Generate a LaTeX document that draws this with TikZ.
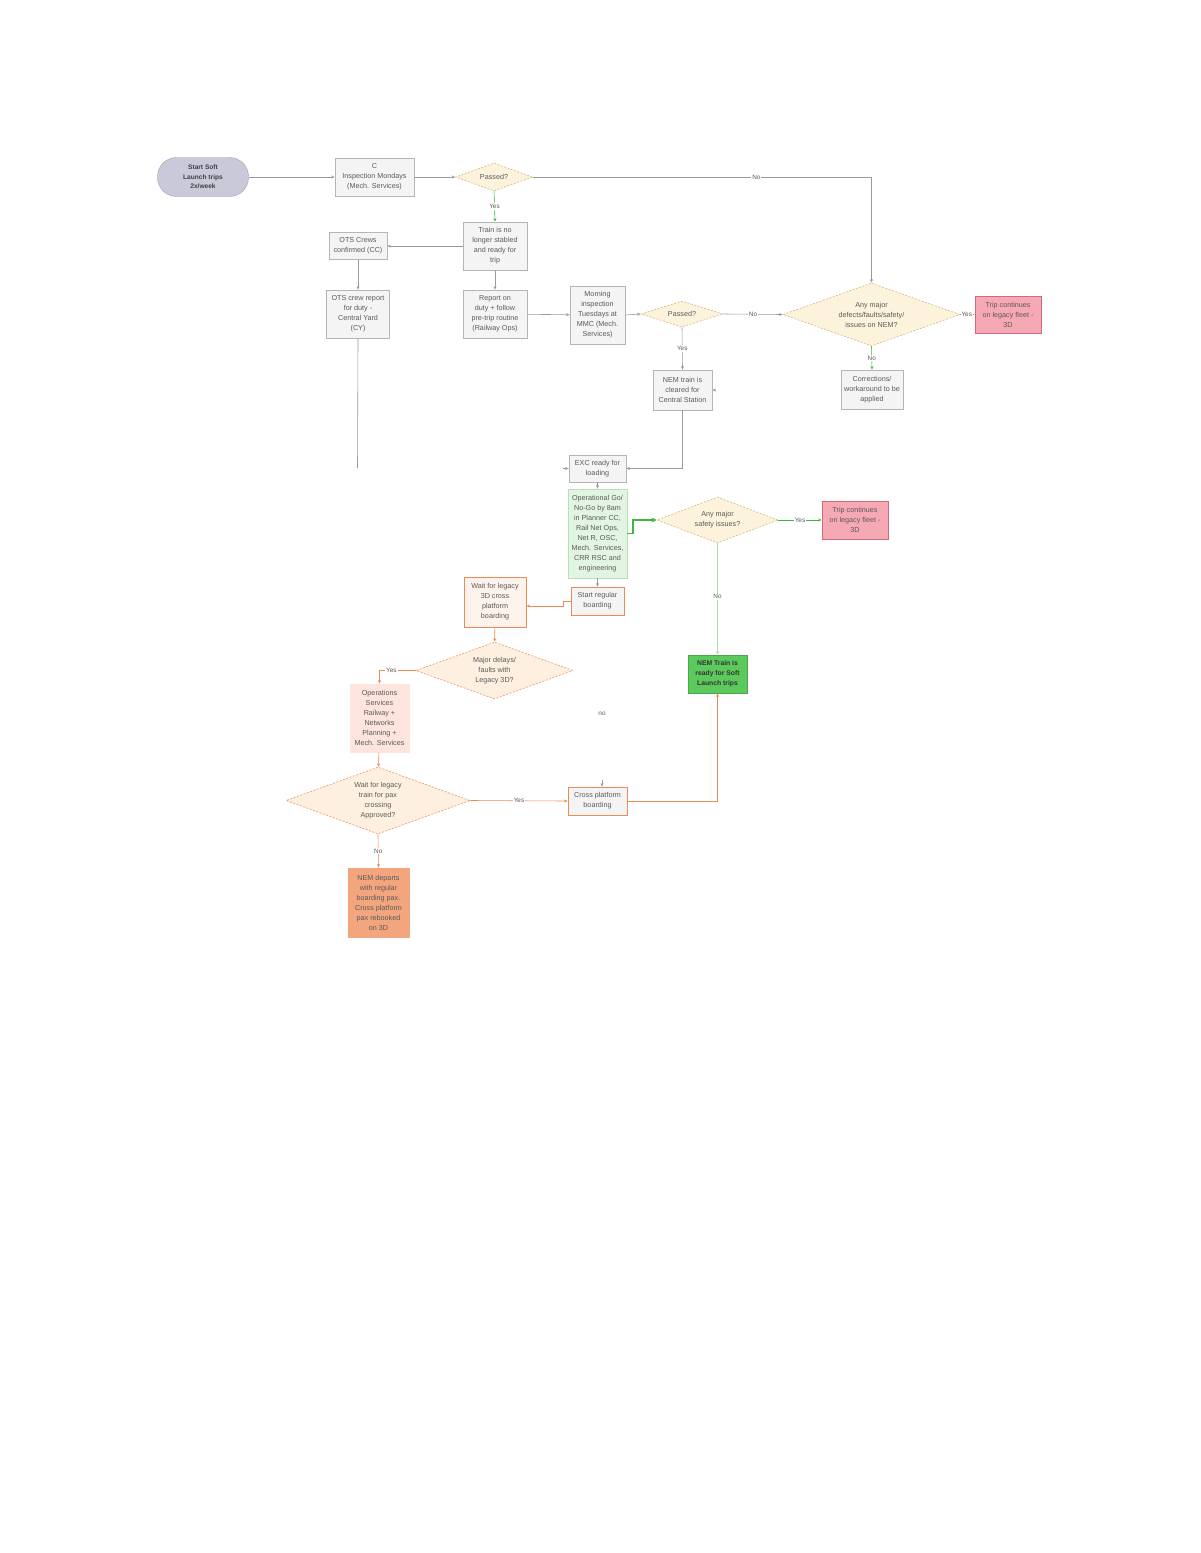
\documentclass[tikz,border=0pt]{standalone}
\usepackage{fontspec}
\setmainfont{Liberation Sans}
\usetikzlibrary{shapes.geometric,arrows.meta}
\definecolor{txt}{HTML}{5A5A5A}
\definecolor{lgray}{HTML}{9A9A9A}
\definecolor{bfill}{HTML}{F4F4F4}
\definecolor{bdraw}{HTML}{B5B5B5}
\definecolor{dfill}{HTML}{FDF3DC}
\definecolor{ddraw}{HTML}{D8BF8A}
\definecolor{rfill}{HTML}{F6A9B5}
\definecolor{rdraw}{HTML}{CF6A78}
\definecolor{glfill}{HTML}{E2F4E2}
\definecolor{gldraw}{HTML}{B7E0B7}
\definecolor{gsfill}{HTML}{5CC95C}
\definecolor{gsdraw}{HTML}{4AA84A}
\definecolor{gline}{HTML}{3CB83C}
\definecolor{glight}{HTML}{A8DDA8}
\definecolor{orng}{HTML}{EE8A55}
\definecolor{ofill}{HTML}{FDF2EC}
\definecolor{odfill}{HTML}{FDF0E0}
\definecolor{odraw}{HTML}{F0A070}
\definecolor{pinkfill}{HTML}{FDE4DC}
\definecolor{salmon}{HTML}{F3A57E}
\definecolor{sfill}{HTML}{C9C9D9}
\definecolor{sdraw}{HTML}{A0A0B0}
\tikzset{
  base/.style={font=\fontsize{7.2}{10}\selectfont, text=txt, align=center, inner sep=0pt},
  box/.style={base, rectangle, draw=bdraw, fill=bfill, line width=0.8pt},
  dia/.style={base, diamond, draw=ddraw, fill=dfill, dash pattern=on 2pt off 1.5pt, line width=0.7pt},
  odia/.style={dia, draw=odraw, fill=odfill},
  obox/.style={box, draw=orng},
  conn/.style={draw=lgray, line width=0.6pt, -{Stealth[length=3.5pt,width=3pt]}},
  gconn/.style={conn, draw=gline},
  lgconn/.style={conn, draw=glight},
  oconn/.style={conn, draw=orng},
  lbl/.style={base, fill=white, inner sep=1pt, font=\fontsize{6.4}{7}\selectfont},
}
\begin{document}
\begin{tikzpicture}[x=1pt,y=-1pt]
\useasboundingbox (0,0) rectangle (1200,1553);
\fill[white] (0,0) rectangle (1200,1553);

% nodes
\node[base, rounded corners=19pt, draw=sdraw, fill=sfill, minimum width=91pt, minimum height=39pt, font=\bfseries\fontsize{6.6}{9.5}\selectfont, text=black!75] (start) at (203,177) {Start Soft\\Launch trips\\2x/week};
\node[box, minimum width=79pt, minimum height=38pt] (insp) at (374.5,177) {C\\Inspection Mondays\\(Mech. Services)};
\node[dia, aspect=2.75, minimum width=77pt, minimum height=28pt] (p1) at (494,177) {Passed?};
\node[box, minimum width=64pt, minimum height=48pt] (train) at (495,246) {Train is no\\longer stabled\\and ready for\\trip};
\node[box, minimum width=58pt, minimum height=27pt] (otsc) at (358,246) {OTS Crews\\confirmed (CC)};
\node[box, minimum width=63pt, minimum height=48pt] (otsr) at (358,314) {OTS crew report\\for duty -\\Central Yard\\(CY)};
\node[box, minimum width=64pt, minimum height=48pt] (report) at (495,314) {Report on\\duty + follow\\pre-trip routine\\(Railway Ops)};
\node[box, minimum width=55pt, minimum height=58pt] (morn) at (597.5,315) {Morning\\inspection\\Tuesdays at\\MMC (Mech.\\Services)};
\node[dia, aspect=3.15, minimum width=82pt, minimum height=26pt] (p2) at (682,314) {Passed?};
\node[dia, aspect=2.8, minimum width=177pt, minimum height=63pt] (big) at (871.5,314.5) {Any major\\defects/faults/safety/\\issues on NEM?};
\node[box, draw=rdraw, fill=rfill, minimum width=66pt, minimum height=37pt] (red1) at (1008,314.5) {Trip continues\\on legacy fleet -\\3D};
\node[box, minimum width=62pt, minimum height=39pt] (corr) at (872,389.5) {Corrections/\\workaround to be\\applied};
\node[box, minimum width=59pt, minimum height=40pt] (clear) at (682.5,390) {NEM train is\\cleared for\\Central Station};
\node[box, minimum width=57pt, minimum height=27pt] (exc) at (597.5,468.5) {EXC ready for\\loading};
\node[box, draw=gldraw, fill=glfill, minimum width=59pt, minimum height=89pt] (ops) at (597.5,533.5) {Operational Go/\\No-Go by 8am\\in Planner CC,\\Rail Net Ops,\\Net R, OSC,\\Mech. Services,\\CRR RSC and\\engineering};
\node[dia, aspect=2.6, minimum width=121pt, minimum height=46pt] (safe) at (717.5,520) {Any major\\safety issues?};
\node[box, draw=rdraw, fill=rfill, minimum width=66pt, minimum height=38pt] (red2) at (855,520) {Trip continues\\on legacy fleet -\\3D};
\node[box, draw=gsdraw, fill=gsfill, minimum width=59pt, minimum height=38pt, text=black!80, font=\bfseries\fontsize{6.8}{10}\selectfont] (green) at (717.5,674) {NEM Train is\\ready for Soft\\Launch trips};
\node[obox, minimum width=53pt, minimum height=28pt] (sreg) at (597.5,601) {Start regular\\boarding};
\node[obox, fill=ofill, minimum width=62pt, minimum height=50pt] (wait) at (495,602) {Wait for legacy\\3D cross\\platform\\boarding};
\node[odia, aspect=2.75, minimum width=157pt, minimum height=57pt] (major) at (494.5,670.5) {Major delays/\\faults with\\Legacy 3D?};
\node[box, draw=pinkfill, fill=pinkfill, minimum width=59pt, minimum height=68pt] (osvc) at (379.5,718) {Operations\\Services\\Railway +\\Networks\\Planning +\\Mech. Services};
\node[odia, aspect=2.75, minimum width=184pt, minimum height=67pt] (d3) at (378,800.5) {Wait for legacy\\train for pax\\crossing\\Approved?};
\node[obox, minimum width=59pt, minimum height=28pt] (cross) at (597.5,801) {Cross platform\\boarding};
\node[box, draw=salmon, fill=salmon, minimum width=61pt, minimum height=69pt] (salm) at (378.5,902.5) {NEM departs\\with regular\\boarding pax.\\Cross platform\\pax rebooked\\on 3D};
\node[lbl] (nolbl) at (602,714) {no};

% connectors
\coordinate (c1) at (871.5,177);
\coordinate (c2) at (357.5,468);
\coordinate (c3) at (682.5,468.5);
\coordinate (c4) at (633,533.5);
\coordinate (c5) at (633,520);
\coordinate (c6) at (563,601);
\coordinate (c7) at (563,606);
\coordinate (c8) at (379.5,670.5);
\coordinate (c9) at (717.5,801);

\draw[conn] (start) -- (insp);
\draw[conn] (insp) -- (p1);
\draw[conn] (p1.east) -- node[lbl, pos=0.66]{No} (c1) -- (big.north);
\draw[gconn] (p1.south) -- node[lbl]{Yes} (train.north);
\draw[conn] (train.west) -- (otsc.east);
\draw[conn] (otsc) -- (otsr);
\draw[draw=lgray, line width=0.6pt] (otsr.south) -- (c2);
\draw[conn] (train) -- (report);
\draw[conn] (report) -- (morn);
\draw[conn] (morn.east) -- (p2.west);
\draw[conn] (p2.east) -- node[lbl]{No} (big.west);
\draw[conn] (big.east) -- node[lbl, pos=0.45]{Yes} (red1.west);
\draw[gconn] (big.south) -- node[lbl]{No} (corr.north);
\draw[conn] (p2.south) -- node[lbl]{Yes} (clear.north);
\draw[conn] (clear.south) -- (c3) -- (exc.east);
\draw[conn] (exc) -- (ops);
\draw[gconn, line width=1.4pt, -{Stealth[length=5pt,width=5pt]}] (ops.east) -- (c4) -- (c5) -- (safe.west);
\draw[gconn] (safe.east) -- node[lbl]{Yes} (red2.west);
\draw[lgconn] (safe.south) -- node[lbl, pos=0.48]{No} (green.north);
\draw[conn] (ops) -- (sreg);
\draw[oconn] (sreg.west) -- (c6) -- (c7) -- (wait.east |- c7);
\draw[oconn] (wait) -- (major);
\draw[oconn] (major.west) -- node[lbl, pos=0.67]{Yes} (c8) -- (osvc.north);
\draw[oconn] (osvc) -- (d3);
\draw[oconn] (d3.east) -- node[lbl, pos=0.5]{Yes} (cross.west);
\draw[oconn] (cross.east) -- (c9) -- (green.south);
\draw[oconn] (d3.south) -- node[lbl]{No} (salm.north);

% stray arrowheads
\coordinate (s1) at (563,468.5);
\coordinate (s2) at (716,390);
\coordinate (s3) at (602,780);
\draw[conn] (s1) -- (exc.west);
\draw[conn] (s2) -- (clear.east);
\draw[conn] (s3) -- (cross.north -| s3);
\end{tikzpicture}
\end{document}
